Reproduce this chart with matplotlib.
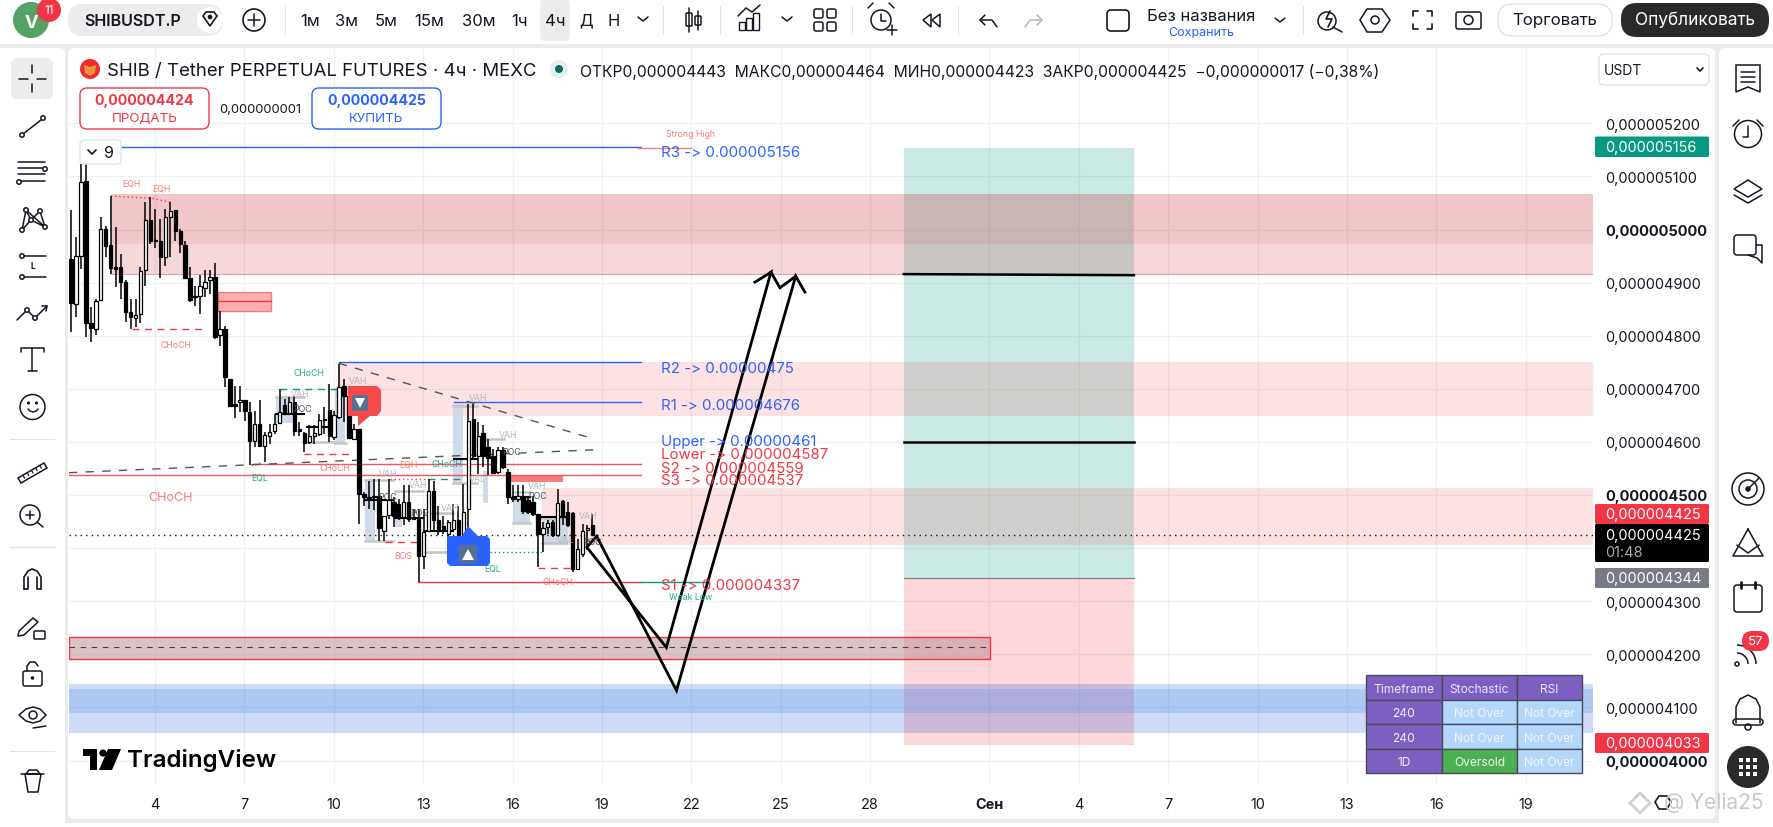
import numpy as np
import matplotlib
matplotlib.use('Agg')
import matplotlib.pyplot as plt
from matplotlib.patches import FancyBboxPatch, Rectangle, Circle, Polygon, Arc

plt.rcParams['font.family'] = ['Inter', 'DejaVu Sans']

# 4h candles, price in units of 1e-9 USDT, x in days from 1 Aug
first_bar_day = 1.18
candle_open = [4945, 4860, 4951, 5091, 4824, 4812, 4868, 5001, 4970, 4930, 4930, 4901, 4844, 4834, 4841, 4923,
               5017, 4981, 4978, 4948, 5024, 5036, 4998, 4971, 4908, 4874, 4874, 4890, 4904, 4910, 4802,
               4813, 4719, 4672, 4675, 4678, 4657, 4601, 4634, 4592, 4612, 4620, 4635, 4669, 4654, 4675, 4624,
               4616, 4599, 4611, 4615, 4641, 4661, 4609, 4647, 4706, 4687, 4606,
               4625, 4502, 4496, 4499, 4499, 4433, 4463, 4486, 4483, 4458, 4486, 4458, 4455, 4386, 4433, 4507,
               4453, 4441, 4427, 4436, 4452, 4424, 4474,
               4643, 4574, 4616, 4590, 4573, 4543, 4585, 4543, 4497, 4493, 4497, 4490, 4486, 4465, 4426, 4439,
               4449, 4424, 4488, 4468, 4466, 4360, 4389, 4434, 4443]
candle_high = [5037, 4985, 5124, 5149, 4854, 4869, 5023, 5007, 5063, 5004, 4954, 4904, 4869, 4869, 4929, 5051,
               5061, 5039, 5020, 5039, 5051, 5036, 5001, 4979, 4929, 4894, 4915, 4923, 4923, 4937, 4847,
               4819, 4719, 4706, 4706, 4678, 4675, 4659, 4678, 4618, 4634, 4653, 4700, 4681, 4684, 4687, 4637,
               4618, 4631, 4631, 4653, 4665, 4709, 4659, 4747, 4719, 4690, 4633,
               4625, 4505, 4527, 4530, 4530, 4461, 4530, 4496, 4493, 4518, 4518, 4474, 4474, 4474, 4530, 4527,
               4480, 4461, 4452, 4483, 4480, 4521, 4672,
               4672, 4637, 4631, 4606, 4587, 4590, 4590, 4549, 4518, 4518, 4518, 4499, 4499, 4465, 4449, 4452,
               4452, 4512, 4490, 4487, 4468, 4417, 4446, 4444, 4464]
candle_low = [4807, 4835, 4926, 4797, 4788, 4802, 4866, 4948, 4916, 4891, 4869, 4825, 4812, 4816, 4824, 4894,
              4973, 4965, 4908, 4932, 4948, 4979, 4955, 4907, 4863, 4855, 4841, 4872, 4879, 4794, 4780,
              4703, 4665, 4645, 4656, 4639, 4556, 4590, 4590, 4562, 4596, 4615, 4634, 4650, 4652, 4612, 4612,
              4581, 4596, 4596, 4612, 4615, 4600, 4603, 4643, 4637, 4605, 4603,
              4446, 4480, 4474, 4471, 4413, 4413, 4455, 4439, 4452, 4443, 4449, 4452, 4336, 4361, 4430, 4433,
              4424, 4427, 4420, 4433, 4417, 4420, 4436,
              4568, 4540, 4552, 4537, 4540, 4540, 4549, 4483, 4486, 4486, 4465, 4465, 4461, 4364, 4392, 4427,
              4421, 4421, 4443, 4439, 4355, 4358, 4383, 4396, 4423]
candle_close = [4861, 4951, 5089, 4824, 4815, 4866, 5001, 4969, 4927, 4926, 4902, 4844, 4835, 4839, 4921, 5017,
                4978, 4978, 4948, 5023, 5034, 4998, 4973, 4908, 4868, 4872, 4893, 4901, 4910, 4797, 4813,
                4722, 4667, 4667, 4679, 4658, 4601, 4633, 4593, 4613, 4618, 4634, 4656, 4653, 4675, 4621, 4620,
                4598, 4612, 4617, 4641, 4643, 4612, 4650, 4703, 4687, 4608, 4625,
                4502, 4496, 4493, 4496, 4438, 4461, 4490, 4461, 4458, 4486, 4455, 4455, 4386, 4430, 4507, 4453,
                4433, 4436, 4449, 4452, 4424, 4468, 4640,
                4574, 4611, 4574, 4570, 4541, 4585, 4552, 4496, 4493, 4499, 4470, 4468, 4465, 4426, 4438, 4447,
                4424, 4485, 4461, 4443, 4360, 4399, 4432, 4438, 4425]

price_ticks = [5200, 5100, 5000, 4900, 4800, 4700, 4600, 4500, 4400, 4300, 4200, 4100, 4000]
price_labels = ['0,000005200', '0,000005100', '0,000005000', '0,000004900', '0,000004800', '0,000004700',
                '0,000004600', '0,000004500', '', '0,000004300', '0,000004200', '0,000004100', '0,000004000']
bold_prices = ['0,000005000', '0,000004500', '0,000004000']
day_ticks = [4, 7, 10, 13, 16, 19, 22, 25, 28, 32, 35, 38, 41, 44, 47, 50]
day_labels = ['4', '7', '10', '13', '16', '19', '22', '25', '28', 'Сен', '4', '7', '10', '13', '16', '19']

r1, r2, r3 = 4676, 4750, 5156
s1, s2, s3 = 4337, 4559, 4537
last_price = 4425
position_days = (29.13, 36.85)
position_top, position_entry, position_stop = 5153, 4344, 4029
position_marks = [4916, 4600]

# volume profile boxes: day from, day to, price low, price high
profile_boxes = [(8.05, 8.63, 4635, 4684), (10.04, 10.38, 4597, 4702), (11.05, 11.38, 4414, 4531),
                 (12.05, 12.29, 4439, 4476), (14.0, 14.33, 4522, 4672), (15.0, 15.17, 4484, 4546),
                 (16.0, 16.58, 4448, 4495), (17.02, 17.86, 4409, 4456)]
poc_lines = [(14.03, 14.8, 4567), (11.05, 12.0, 4490), (12.05, 13.0, 4456), (13.05, 14.0, 4433),
             (9.1, 10.0, 4629), (8.05, 9.0, 4653), (16.0, 16.6, 4497), (17.0, 17.8, 4458)]
va_lines = [(8.05, 9.0, 4684), (10.03, 10.4, 4700), (14.0, 14.8, 4668), (15.0, 15.7, 4605), (16.0, 16.6, 4505),
            (11.05, 12.0, 4529), (12.05, 13.0, 4508), (13.05, 14.0, 4467), (17.0, 17.8, 4456), (14.0, 14.8, 4522),
            (16.0, 16.6, 4448), (17.0, 17.8, 4409), (13.05, 14.0, 4392), (10.03, 10.4, 4597), (9.1, 10.0, 4599),
            (11.05, 12.0, 4414)]

red_dashed = [(3.22, 5.7, 4812), (9.0, 10.6, 4578), (11.72, 12.83, 4412), (16.85, 18.03, 4363)]
teal_dashed = [(8.2, 10.14, 4700), (13.16, 14.33, 4531)]
teal_dotted = [(15.24, 17.0, 4392)]

trend_days = [10.17, 18.7]
trend_upper = [4748, 4606]
trend2_days = [1.11, 18.7]
trend_lower = [4542, 4585]

eqh_days = [2.52, 3.86, 4.54]
eqh_prices = [5063, 5059, 5051]

# hand drawn forecast arrow
arrow_days = [24.13, 24.67, 21.16, 18.49, 18.82, 21.50, 25.50, 25.81]
arrow_prices = [4900.8, 4919.6, 4212.8, 4401.7, 4422.4, 4131.8, 4912, 4882]
arrow_mid_days = [24.67, 24.97, 25.50]
arrow_mid_prices = [4919.6, 4890.2, 4912]

table_columns = ['Timeframe', 'Stochastic', 'RSI']
table_frames = ['240', '240', '1D']
table_stoch = ['Not Over', 'Not Over', 'Oversold']
table_rsi = ['Not Over', 'Not Over', 'Not Over']

ink = '#131722'
W, H = 1774, 828
fig = plt.figure(figsize=(W / 100, H / 100), dpi=100, facecolor='#ebebeb')


def box(a, x0, y0, x1, y1, r=6, fc='white', ec='none', lw=1, z=2):
    a.add_patch(FancyBboxPatch((x0, y0), x1 - x0, y1 - y0, boxstyle=f'round,pad=0,rounding_size={r}',
                               fc=fc, ec=ec, lw=lw, zorder=z))


# panels behind the chart
bg = fig.add_axes([0, 0, 1, 1], zorder=0)
bg.set_xlim(0, W)
bg.set_ylim(H, 0)
bg.axis('off')
bg.add_patch(Rectangle((0, 0), W, 45, fc='white', ec='none'))
box(bg, -10, 49, 65, 840, r=6)
box(bg, 68, 49, 1715, 820, r=6)
box(bg, 1719, 49, 1790, 840, r=6)
bg.add_patch(Rectangle((0, 824), W, 6, fc='white', ec='none'))

# main chart
ax = fig.add_axes([69 / W, 1 - 786 / H, (1593 - 69) / W, (786 - 48) / H], zorder=1)
ax.patch.set_alpha(0)
day_left = 4 + (69 - 155) / 29.8
day_right = 4 + (1593 - 155) / 29.8
ax.set_xlim(day_left, day_right)
ax.set_ylim(4000 - 24.5 / 0.531, 4000 + 713.5 / 0.531)
for s in ax.spines.values():
    s.set_visible(False)
ax.yaxis.tick_right()
ax.set_yticks(price_ticks)
ax.set_yticklabels(price_labels, fontsize=10.5, color=ink)
for t in ax.get_yticklabels():
    if t.get_text() in bold_prices:
        t.set_fontweight('bold')
ax.set_xticks(day_ticks)
ax.set_xticklabels(day_labels, fontsize=10.4, color=ink)
for t in ax.get_xticklabels():
    if t.get_text() == 'Сен':
        t.set_fontweight('bold')
ax.tick_params(axis='y', length=0, pad=9)
ax.tick_params(axis='x', length=0, pad=9)
ax.grid(True, color='#eff0f2', lw=1)
ax.set_axisbelow(True)

# long position box
p0, p1 = position_days
ax.fill_between([p0, p1], position_entry, position_top, color='#089981', alpha=0.21, lw=0, zorder=1)
ax.fill_between([p0, p1], position_stop, position_entry, color='#f23645', alpha=0.2, lw=0, zorder=1)
ax.plot([p0, p1], [position_entry, position_entry], color='#787b86', lw=0.8, zorder=4)

# supply / demand zones
ax.fill_between([2.52, day_right], 4917, 5066, color='#c8222e', alpha=0.18, lw=0, zorder=2)
ax.fill_between([2.52, day_right], 4973, 5066, color='#c8222e', alpha=0.09, lw=0, zorder=2)
ax.plot([2.52, day_right], [4917, 4917], color='#e2a4a8', lw=0.8, zorder=2)
ax.fill_between([10.17, day_right], 4648, 4750, color='#f23645', alpha=0.14, lw=0, zorder=2)
ax.fill_between([17.0, day_right], 4405, 4514, color='#f23645', alpha=0.14, lw=0, zorder=2)
ax.fill_between([day_left, day_right], 4051, 4145, color='#0d46d2', alpha=0.2, lw=0, zorder=2)
ax.fill_between([day_left, day_right], 4089, 4135, color='#3080e7', alpha=0.2, lw=0, zorder=2)
ax.add_patch(Rectangle((day_left, 4192), 32.02 - day_left, 41, fc='#b98a8f', ec='none', alpha=0.5, zorder=3))
ax.add_patch(Rectangle((day_left, 4192), 32.02 - day_left, 41, fc='none', ec='#f23645', lw=1, zorder=3))
ax.plot([day_left, 32.02], [4213, 4213], color='#444444', lw=0.8, ls=(0, (5, 5)), zorder=3)
ax.add_patch(Rectangle((6.11, 4846), 1.77, 37, fc='#fbb0b0', ec='#f77c7c', lw=1, zorder=3))
ax.plot([6.11, 7.88], [4866, 4866], color='#f23645', lw=1, zorder=3)
ax.add_patch(Rectangle((15.94, 4525), 1.75, 10, fc='#f77c7c', ec='none', zorder=4))

# volume profiles
for d0, d1, low, high in profile_boxes:
    ax.add_patch(Rectangle((d0, low), d1 - d0, high - low, fc='#ccd6e6', ec='none', alpha=0.9, zorder=3))
for d0, d1, y in va_lines:
    ax.plot([d0, d1], [y, y], color='#c4c4c4', lw=1.8, zorder=3)
for d0, d1, y in poc_lines:
    ax.plot([d0, d1], [y, y], color='black', lw=1.5, zorder=3)

# indicator levels
blue = '#2962ff'
red = '#f23645'
teal = '#089981'
ax.plot([2.83, 20.3], [r3, r3], color=blue, lw=1, zorder=4)
ax.plot([20.2, 22.0], [r3 - 2, r3 - 2], color='#f77c7c', lw=1, zorder=4)
ax.plot([10.17, 20.3], [r2, r2], color=blue, lw=1, zorder=4)
ax.plot([14.05, 20.3], [r1, r1], color=blue, lw=1, zorder=4)
ax.plot([7.25, 20.3], [s2, s2], color=red, lw=1, alpha=0.85, zorder=4)
ax.plot([day_left, 20.3], [s3, s3], color=red, lw=1, alpha=0.85, zorder=4)
ax.plot([12.83, 20.3], [s1, s1], color=red, lw=1, zorder=4)
ax.plot([20.3, 22.55], [s1, s1], color=teal, lw=1, zorder=4)
for d0, d1, y in red_dashed:
    ax.plot([d0, d1], [y, y], color=red, lw=1, ls=(0, (5, 4)), zorder=4)
for d0, d1, y in teal_dashed:
    ax.plot([d0, d1], [y, y], color=teal, lw=1, ls=(0, (5, 4)), zorder=4)
for d0, d1, y in teal_dotted:
    ax.plot([d0, d1], [y, y], color=teal, lw=1, ls=(0, (1, 2)), zorder=4)
ax.plot(eqh_days, eqh_prices, color=red, lw=1, ls=(0, (1, 2)), zorder=4)
ax.plot([11.89, 13.16], [4531, 4531], color=red, lw=1, ls=(0, (1, 2)), zorder=4)
ax.plot([7.22, 7.62], [4556, 4561], color=teal, lw=1, ls=(0, (1, 2)), zorder=4)
ax.plot(trend_days, trend_upper, color='#555555', lw=1, ls=(0, (6, 6)), zorder=4)
ax.plot(trend2_days, trend_lower, color='#555555', lw=1, ls=(0, (6, 6)), zorder=4)
ax.plot([day_left, day_right], [last_price, last_price], color=ink, lw=1, ls=(0, (1, 3)), zorder=4)

# candles
bar_x = first_bar_day + np.arange(len(candle_open)) / 6
ax.vlines(bar_x, candle_low, candle_high, color='black', lw=1.1, zorder=5)
opens = np.array(candle_open, dtype=float)
closes = np.array(candle_close, dtype=float)
faces = ['white' if c >= o else 'black' for o, c in zip(opens, closes)]
ax.bar(bar_x, np.abs(closes - opens), bottom=np.minimum(opens, closes), width=0.115, color=faces,
       edgecolor='black', lw=0.9, zorder=6)

# forecast arrow and position marks
ax.plot(arrow_days, arrow_prices, color='black', lw=2, zorder=7, solid_joinstyle='miter')
ax.plot(arrow_mid_days, arrow_mid_prices, color='black', lw=2, zorder=7, solid_joinstyle='miter')
for y in position_marks:
    ax.plot([p0, p1], [y, y - (2 if y > 4700 else 0)], color='black', lw=1.8, zorder=7)

# everything on top is laid out in screen pixels
ui = fig.add_axes([0, 0, 1, 1], zorder=2)
ui.set_xlim(0, W)
ui.set_ylim(H, 0)
ui.axis('off')
ui.patch.set_alpha(0)


def txt(x, y, s, size=10, color=ink, ha='left', weight='normal', z=10, alpha=None):
    ui.text(x, y + 1.5, s, fontsize=size, color=color, ha=ha, va='center', fontweight=weight, zorder=z, alpha=alpha)


def ln(xs, ys, lw=1.1, c=ink, z=9):
    ui.plot(xs, ys, color=c, lw=lw, zorder=z, solid_capstyle='round')


def ring(x, y, r, lw=1.1, ec=ink, fc='none', z=9):
    ui.add_patch(Circle((x, y), r, fc=fc, ec=ec, lw=lw, zorder=z))


# small chart labels
red_small = [(131, 184, 'EQH'), (161, 189, 'EQH'), (176, 346, 'CHoCH'), (691, 134.5, 'Strong High'),
             (335, 469, 'CHoCH'), (408, 465, 'EQH'), (403, 557, 'BOS'), (558, 583, 'CHoCH')]
teal_small = [(260, 478, 'EQL'), (309, 374, 'CHoCH'), (447, 465, 'CHoCH'), (493, 569, 'EQL'), (691, 598, 'Weak Low')]
grey_small = [(300, 395, 'VAH'), (358, 382, 'VAH'), (388, 475, 'VAH'), (418, 486, 'VAH'), (450, 509, 'VAH'),
              (478, 399, 'VAH'), (508, 436, 'VAH'), (537, 487, 'VAH'), (588, 517, 'VAH'), (477, 480, 'VAL'),
              (565, 541, 'VAL')]
dark_small = [(303, 410, 'POC'), (388, 498, 'POC'), (420, 514, 'POC'), (512, 453, 'POC'), (538, 497, 'POC'),
              (593, 543, 'POC')]
for x, y, s in red_small:
    txt(x, y - 1.5, s, 6.3, '#f77c7c', 'center', z=8)
for x, y, s in teal_small:
    txt(x, y - 1.5, s, 6.3, '#22ab94', 'center', z=8)
for x, y, s in grey_small:
    txt(x, y - 1.5, s, 6.3, '#b2b5be', 'center', z=8)
for x, y, s in dark_small:
    txt(x, y - 1.5, s, 6.3, '#50535e', 'center', z=8)
txt(171, 497, 'CHoCH', 9, '#f77c7c', 'center', z=8)

level_labels = [(151.5, 'R3 -> 0.000005156', blue), (367.5, 'R2 -> 0.00000475', blue),
                (405, 'R1 -> 0.000004676', blue), (441, 'Upper -> 0.00000461', blue),
                (453.5, 'Lower -> 0.000004587', red), (468, 'S2 -> 0.000004559', red),
                (479.5, 'S3 -> 0.000004537', red), (585, 'S1 -> 0.000004337', red)]
for y, s, c in level_labels:
    txt(661, y, s, 10.8, c, z=8)

# signal flags
ui.add_patch(Polygon([(348, 387), (377, 387), (381, 391), (381, 412), (377, 417), (370, 417), (358, 427), (358, 417),
                      (348, 417)], fc='#f44a4a', ec='none', zorder=8))
box(ui, 352, 396, 368, 412, r=2, fc='#56708f', z=9)
ui.add_patch(Polygon([(355, 399), (365, 399), (360, 409)], fc='white', ec='none', zorder=10))
ui.add_patch(Polygon([(447, 537), (462, 537), (468, 527), (478, 537), (487, 537), (490, 540), (490, 564), (487, 567),
                      (450, 567), (447, 564)], fc=blue, ec='none', zorder=8))
box(ui, 459, 546, 477, 564, r=2, fc='#56708f', z=9)
ui.add_patch(Polygon([(462, 561), (474, 561), (468, 550)], fc='white', ec='none', zorder=10))

# header of the chart
ring(90, 70, 10, fc='#ee2b2b', ec='none')
ui.add_patch(Polygon([(84, 66), (90, 68), (96, 66), (95, 74), (90, 77), (85, 74)], fc='#e8953c', ec='none', zorder=10))
txt(107, 70, 'SHIB / Tether PERPETUAL FUTURES · 4ч · MEXC', 13.4)
ring(559, 70, 9, fc='#e3eff0', ec='none')
ring(559, 70, 4, fc='#0b6b62', ec='none')
txt(580, 70, 'ОТКР0,000004443  МАКС0,000004464  МИН0,000004423  ЗАКР0,000004425  −0,000000017 (−0,38%)', 11.3)
box(ui, 80, 89, 209, 130, r=7, ec='#f23645', lw=1)
txt(144.5, 99.5, '0,000004424', 10.2, '#f23645', 'center', 'bold')
txt(144.5, 117, 'ПРОДАТЬ', 9.6, '#f23645', 'center')
txt(260, 108.5, '0,000000001', 9.3, ink, 'center')
box(ui, 312, 89, 441, 130, r=7, ec=blue, lw=1)
txt(376.5, 99.5, '0,000004425', 10.2, blue, 'center', 'bold')
txt(376.5, 117, 'КУПИТЬ', 9.6, blue, 'center')
box(ui, 80, 141, 121, 165, r=4, ec='#e0e3eb', lw=1)
ln([88, 92, 96], [151, 155, 151], 1.2)
txt(104, 152, '9', 11.5)

# logo
ui.add_patch(Polygon([(83, 750), (97, 750), (97, 771), (90, 771), (90, 757), (83, 757)], fc='black', ec='none', zorder=9))
ring(103, 754, 3.6, ec='none', fc='black')
ui.add_patch(Polygon([(108, 750), (121, 750), (112, 771), (99, 771)], fc='black', ec='none', zorder=9))
txt(127, 759, 'TradingView', 17.4, 'black', weight='semibold')

# price tags
box(ui, 1599, 55, 1709, 86, r=5, ec='#e0e3eb', lw=1)
txt(1604, 69.5, 'USDT', 10)
ln([1697, 1700, 1703], [69, 72, 69], 1.2)
tags = [(137.5, 158, '0,000005156', '#089981'), (505, 525, '0,000004425', '#f23645'),
        (569, 589, '0,000004344', '#787b86'), (734, 754, '0,000004033', '#f23645')]
for y0, y1, s, c in tags:
    box(ui, 1595, y0, 1709, y1, r=1.5, fc=c)
    txt(1605.5, (y0 + y1) / 2 - 1, s, 10.5, 'white')
box(ui, 1595, 525, 1709, 563, r=1.5, fc='black')
txt(1605.5, 534.5, '0,000004425', 10.5, 'white')
txt(1605.5, 551.5, '01:48', 10.5, '#a8a8a8')

# status table
col_x = [1366, 1442, 1517, 1582]
row_y = [676, 701, 725, 750, 774]
purple = '#7c5fc0'
for c, name in enumerate(table_columns):
    ui.add_patch(Rectangle((col_x[c], row_y[0]), col_x[c + 1] - col_x[c], row_y[1] - row_y[0],
                           fc=purple, ec='#4a4a5a', lw=1, zorder=9))
    txt((col_x[c] + col_x[c + 1]) / 2, (row_y[0] + row_y[1]) / 2, name, 8.6, '#ebe6f7', 'center')
for r in range(3):
    cells = [(table_frames[r], purple), (table_stoch[r], '#4caf50' if table_stoch[r] == 'Oversold' else '#b3d7fb'),
             (table_rsi[r], '#b3d7fb')]
    for c, (s, fc) in enumerate(cells):
        ui.add_patch(Rectangle((col_x[c], row_y[r + 1]), col_x[c + 1] - col_x[c], row_y[r + 2] - row_y[r + 1],
                               fc=fc, ec='#4a4a5a', lw=1, zorder=9))
        txt((col_x[c] + col_x[c + 1]) / 2, (row_y[r + 1] + row_y[r + 2]) / 2, s, 8.6, '#f2f4fa', 'center')

# top bar
ring(31, 21, 18, fc='#56a266', ec='none')
txt(31, 21.5, 'V', 13, 'white', 'center', 'bold')
ring(49, 11, 12, fc='#f23645', ec='none', z=10)
txt(49, 9.5, '11', 8.6, 'white', 'center', z=11)
box(ui, 68, 5, 223, 37, r=15, fc='#ececec')
txt(84, 19.5, 'SHIBUSDT.P', 11.6, ink, weight='semibold', z=6)
ring(210, 21, 13, fc='white', ec='none')
ui.add_patch(Polygon([(203, 17), (206, 13), (214, 13), (217, 17), (210, 27)], fc='none', ec=ink, lw=1.2, zorder=10))
ring(210, 18, 1.6, fc=ink)
ring(254, 21, 11, lw=1.2)
ln([248, 260], [21, 21])
ln([254, 254], [15, 27])
ln([285, 285], [7, 35], 0.8, '#e0e3eb')
box(ui, 540, 0, 570, 42, r=5, fc='#ececec')
frames = [(310, '1м'), (347, '3м'), (386, '5м'), (429, '15м'), (479, '30м'), (520, '1ч'), (555, '4ч'), (586, 'Д'), (614, 'Н')]
for x, s in frames:
    txt(x, 19.5, s, 12, ink, 'center')
ln([638, 643, 648], [18, 22, 18])
ln([663, 663], [7, 35], 0.8, '#e0e3eb')
ln([689, 689], [9, 33])
box(ui, 686, 14, 692, 27, r=1, fc='white', ec=ink, lw=1.1)
ln([698, 698], [12, 31])
box(ui, 695, 17, 701, 26, r=1, fc='white', ec=ink, lw=1.1)
ln([720, 720], [7, 35], 0.8, '#e0e3eb')
for x0, h in [(739, 8), (746, 12), (753, 17)]:
    ui.add_patch(Rectangle((x0, 31 - h), 6, h, fc='none', ec=ink, lw=1, zorder=9))
ln([738, 746, 752, 760], [17, 9, 13, 6])
ln([782, 787, 792], [18, 22, 18])
for x0, y0 in [(814, 10), (827, 10), (814, 23), (827, 23)]:
    box(ui, x0, y0, x0 + 9, y0 + 9, r=2, fc='none', ec=ink, lw=1.1)
ln([852, 852], [7, 35], 0.8, '#e0e3eb')
ring(881, 21, 10)
ln([881, 881, 886], [15, 22, 22])
ln([887, 897], [31, 31])
ln([892, 892], [26, 36])
ln([868, 873], [9, 4])
ln([889, 894], [4, 9])
ui.add_patch(Polygon([(931, 15), (923, 21), (931, 28)], fc='none', ec=ink, lw=1.1, zorder=9))
ui.add_patch(Polygon([(940, 15), (932, 21), (940, 28)], fc='none', ec=ink, lw=1.1, zorder=9))
ln([958, 958], [7, 35], 0.8, '#e0e3eb')
ln([985, 980, 985], [16, 21, 26])
ln([980, 992, 997], [21, 21, 28])
ln([1037, 1042, 1037], [16, 21, 26], c='#b2b5be')
ln([1042, 1030, 1025], [21, 21, 28], c='#b2b5be')
box(ui, 1107, 11, 1129, 32, r=4, fc='none', ec=ink, lw=1.2)
txt(1201, 15, 'Без названия', 12, ink, 'center')
txt(1201, 31.5, 'Сохранить', 9, blue, 'center')
ln([1275, 1280, 1285], [19, 23, 19])
ln([1303, 1303], [7, 35], 0.8, '#e0e3eb')
ring(1327, 22, 9)
ln([1333, 1342], [28, 33])
ln([1330, 1326, 1332, 1328], [12, 20, 20, 28], 1.2)
ui.add_patch(Polygon([(1360, 21), (1367, 10), (1382, 10), (1390, 21), (1382, 33), (1367, 33)], fc='none', ec=ink, lw=1.1, zorder=9))
ring(1375, 21, 4)
for xs, ys in [([1413, 1413, 1418], [17, 12, 12]), ([1427, 1432, 1432], [12, 12, 17]),
               ([1432, 1432, 1427], [25, 30, 30]), ([1418, 1413, 1413], [30, 30, 25])]:
    ln(xs, ys, 1.2)
box(ui, 1456, 13, 1481, 30, r=2, fc='none', ec=ink, lw=1.1)
ring(1468.5, 21, 4.5)
box(ui, 1498, 5, 1612, 37, r=15, ec='#e0e3eb', lw=1)
txt(1555, 19.5, 'Торговать', 12.2, ink, 'center')
box(ui, 1621, 4, 1769, 38, r=16, fc='#2a2a2a')
txt(1695, 19.5, 'Опубликовать', 12.4, 'white', 'center')

# left toolbar
box(ui, 11, 59, 53, 100, r=7, fc='#ececec', z=4)
ln([19, 28], [79.5, 79.5])
ln([37, 46], [79.5, 79.5])
ln([32.5, 32.5], [66, 74])
ln([32.5, 32.5], [85, 93])
ln([23, 41], [135, 121])
ring(22, 136, 2.2, fc='white')
ring(43, 119, 2.2, fc='white')
for y in [163, 169, 175, 182]:
    ln([18, 45], [y, y])
ring(45, 170, 2.2, fc='white')
ring(19, 183, 2.2, fc='white')
node_x = [22, 26, 31, 40, 45]
node_y = [231, 211, 221, 212, 228]
ln([22, 26, 31, 22], [231, 211, 221, 231])
ln([26, 45, 40, 31, 45], [211, 228, 212, 221, 228])
for x, y in zip(node_x, node_y):
    ring(x, y, 2.2, fc='white')
ln([24, 46], [257, 257])
ln([24, 46], [278, 278])
ring(22, 257, 2.2, fc='white')
ring(22, 278, 2.2, fc='white')
txt(33, 265.5, 'L', 6, ink, 'center', 'bold')
ln([17, 27, 35, 47], [321, 311, 319, 307])
ring(27, 311, 2.2, fc='white')
ring(35, 319, 2.2, fc='white')
ln([42, 47, 46], [307, 307, 312])
ln([21, 21, 44, 44], [353, 349, 349, 353])
ln([32.5, 32.5], [349, 372])
ln([28, 37], [372, 372])
ring(32.5, 408, 12.5)
ln([28, 30, 33, 36, 38], [410, 412, 413, 412, 410])
ring(28.5, 404, 0.8, fc=ink)
ring(36.5, 404, 0.8, fc=ink)
ln([10, 55], [440, 440], 0.8, '#e0e3eb')
ui.add_patch(Polygon([(18, 479), (44, 464), (47, 469), (21, 484)], fc='none', ec=ink, lw=1.1, zorder=9))
for k in range(5):
    ln([23 + 4.2 * k, 24.6 + 4.2 * k], [476.2 - 2.45 * k, 479 - 2.45 * k], 0.9)
ring(30, 516, 10)
ln([26, 34], [516, 516])
ln([30, 30], [512, 520])
ln([37, 43], [523, 528])
ln([10, 55], [548, 548], 0.8, '#e0e3eb')
ln([24, 24, 28, 32, 37, 41, 41], [590, 578, 572, 570, 572, 578, 590], 1.2)
ln([24, 28, 28], [590, 590, 578], 1.2)
ln([37, 37, 41], [578, 590, 590], 1.2)
ui.add_patch(Polygon([(19, 632), (33, 619), (38, 623), (24, 636), (18, 637)], fc='none', ec=ink, lw=1.1, zorder=9))
box(ui, 34, 632, 45, 640, r=1, fc='none', ec=ink, lw=1.1)
box(ui, 23, 672, 42, 687, r=2, fc='none', ec=ink, lw=1.1)
ln([27, 27, 30, 35, 38], [672, 667, 663, 663, 667])
ring(32.5, 679, 1, fc=ink)
ui.add_patch(Polygon([(19, 716), (26, 710), (33, 708), (40, 710), (46, 716), (40, 722), (33, 724), (26, 722)],
                     fc='none', ec=ink, lw=1.1, zorder=9))
ring(33, 716, 4)
ln([33, 46], [729, 727])
ln([10, 55], [752, 752], 0.8, '#e0e3eb')
ln([21, 44], [775, 775])
ui.add_patch(Polygon([(25, 775), (28, 793), (38, 793), (41, 775)], fc='none', ec=ink, lw=1.1, zorder=9))
ui.add_patch(Polygon([(26, 775), (29, 771), (37, 771), (40, 775)], fc='none', ec=ink, lw=1.1, zorder=9))

# right sidebar
rx = 1748
ui.add_patch(Polygon([(1736, 66), (1760, 66), (1760, 93), (1748, 88), (1736, 93)], fc='none', ec=ink, lw=1.1, zorder=9))
for y in [73, 78, 83]:
    ln([1741, 1755], [y, y])
ring(rx, 135, 13.5)
ln([rx, rx, rx - 5], [127, 138, 138])
ln([1733, 1739], [127, 121])
ln([1757, 1763], [121, 127])
ui.add_patch(Polygon([(rx, 181), (1762, 190), (rx, 198), (1734, 190)], fc='none', ec=ink, lw=1.1, zorder=9))
ln([1734, rx, 1762], [196, 204, 196])
box(ui, 1734, 236, 1756, 256, r=3, fc='none', ec=ink, lw=1.1)
ln([1756, 1762, 1762, 1757, 1748], [246, 246, 264, 259, 256])
ring(rx, 490, 16)
ring(rx, 490, 9)
ring(rx, 490, 2, fc=ink)
ln([rx, 1759], [490, 479])
ln([rx, 1733, 1763, rx], [530, 557, 557, 530])
ln([1737, rx, 1759], [546, 554, 546])
box(ui, 1734, 586, 1762, 613, r=3, fc='none', ec=ink, lw=1.1)
ln([1741, 1741], [583, 589], 2)
ln([1755, 1755], [583, 589], 2)
ring(1737, 665, 2)
for rad in (11, 19):
    ui.add_patch(Arc((1737, 665), 2 * rad, 2 * rad, theta1=270, theta2=360, ec=ink, lw=1.1, zorder=9))
box(ui, 1742, 632, 1769, 652, r=10, fc='#f23645', z=10)
txt(1755.5, 640.5, '57', 9.6, 'white', 'center', z=11)
ln([1736, 1736, 1740, rx, 1756, 1760, 1760], [724, 708, 700, 696, 700, 708, 724])
box(ui, 1733, 720, 1763, 726, r=3, fc='white', ec=ink, lw=1.1)
ring(rx, 728, 3)
ring(rx, 768, 21, fc='#2a2a2a', ec='none')
for dx in (-7, 0, 7):
    for dy in (-7, 0, 7):
        ui.add_patch(Rectangle((rx + dx - 2.2, 768 + dy - 2.2), 4.4, 4.4, fc='white', ec='none', zorder=10))

# watermark
ui.add_patch(Polygon([(1640, 794), (1650, 804), (1640, 814), (1630, 804)], fc='none', ec='#d0d0d0', lw=2, zorder=11))
ui.add_patch(Polygon([(1655, 803), (1659, 797), (1667, 797), (1671, 803), (1667, 810), (1659, 810)],
                     fc='none', ec=ink, lw=1.2, zorder=11))
ui.text(1664, 803, '@ Yelia25', fontsize=15, color='#c9c9c9', va='center', zorder=12)

fig.savefig('out.png', dpi=100)
